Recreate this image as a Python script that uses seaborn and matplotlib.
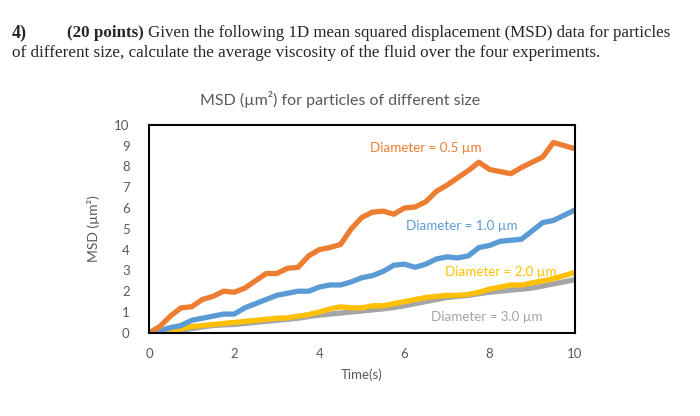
import numpy as np
import pandas as pd
import matplotlib
matplotlib.use("Agg")
import matplotlib.pyplot as plt
import seaborn as sns

sns.set_style("white")
plt.rcParams["font.family"] = ["Lato", "DejaVu Sans"]

# time axis (s) and MSD (um^2)
time_s = np.linspace(0, 10, 41)
msd_05 = [0, 0.3, 0.8, 1.2, 1.25, 1.6, 1.75, 2.0, 1.95, 2.15, 2.5, 2.85, 2.85, 3.1,
          3.15, 3.7, 4.0, 4.1, 4.25, 5.0, 5.55, 5.8, 5.85, 5.7, 6.0, 6.05, 6.3, 6.8,
          7.1, 7.45, 7.8, 8.2, 7.85, 7.75, 7.65, 7.95, 8.2, 8.45, 9.15, 9.0, 8.85]
msd_10 = [0, 0.1, 0.25, 0.35, 0.6, 0.7, 0.8, 0.9, 0.9, 1.2, 1.4, 1.6, 1.8, 1.9,
          2.0, 2.0, 2.2, 2.3, 2.3, 2.45, 2.65, 2.75, 2.95, 3.25, 3.3, 3.15, 3.3, 3.55,
          3.65, 3.6, 3.7, 4.1, 4.2, 4.4, 4.45, 4.5, 4.9, 5.3, 5.4, 5.65, 5.9]
msd_20 = [0, 0.03, 0.1, 0.2, 0.3, 0.35, 0.4, 0.45, 0.5, 0.55, 0.6, 0.65, 0.7, 0.72,
          0.8, 0.88, 1.0, 1.15, 1.25, 1.2, 1.2, 1.3, 1.3, 1.4, 1.5, 1.6, 1.7, 1.75,
          1.8, 1.8, 1.85, 1.95, 2.1, 2.2, 2.3, 2.3, 2.4, 2.5, 2.6, 2.75, 2.9]
msd_30 = [0, 0.02, 0.05, 0.12, 0.2, 0.28, 0.35, 0.38, 0.4, 0.45, 0.5, 0.55, 0.6, 0.65,
          0.7, 0.78, 0.85, 0.9, 0.95, 1.0, 1.05, 1.1, 1.15, 1.22, 1.3, 1.4, 1.5, 1.6,
          1.7, 1.75, 1.8, 1.88, 1.95, 2.0, 2.05, 2.1, 2.15, 2.25, 2.35, 2.45, 2.55]

labels = ["Diameter = 0.5 µm", "Diameter = 1.0 µm", "Diameter = 2.0 µm", "Diameter = 3.0 µm"]
colors = ["#ED7D31", "#5B9BD5", "#FFC000", "#A5A5A5"]
label_pos = [(6.5, 8.87), (7.35, 5.13), (8.26, 2.93), (7.94, 0.78)]

df = pd.DataFrame({
    "time": np.tile(time_s, 4),
    "msd": msd_05 + msd_10 + msd_20 + msd_30,
    "series": np.repeat(labels, len(time_s)),
})

fig = plt.figure(figsize=(7, 4.16), dpi=100)
ax = fig.add_axes([0.213, 0.2, 0.608, 0.5])

# gray first so yellow sits on top, orange/blue last
for i in [3, 2, 1, 0]:
    sns.lineplot(data=df[df["series"] == labels[i]], x="time", y="msd",
                 color=colors[i], linewidth=3.8, ax=ax, legend=False,
                 solid_capstyle="round", solid_joinstyle="round")

for lab, col, (x, y) in zip(labels, colors, label_pos):
    ax.text(x, y, lab, color=col, fontsize=9.6, ha="center", va="center")

ax.set_xlim(0, 10)
ax.set_ylim(0, 10)
ax.set_xticks([0, 2, 4, 6, 8, 10])
ax.set_yticks(range(0, 11))
for s in ax.spines.values():
    s.set_color("black")
    s.set_linewidth(1.5)
ax.tick_params(direction="in", length=4, width=1.2, color="black",
               labelcolor="#595959", labelsize=9.5)
ax.tick_params(axis="x", pad=11)
ax.tick_params(axis="y", pad=14)
ax.set_xlabel("Time(s)", color="#595959", fontsize=9.5, labelpad=6)
ax.set_ylabel("MSD (µm²)", color="#595959", fontsize=10, labelpad=10)

fig.text(0.486, 0.76, "MSD (µm²) for particles of different size",
         color="#595959", fontsize=11.5, ha="center", va="center")

# problem statement above the chart, each piece squeezed to its width in the reference
renderer = fig.canvas.get_renderer()


def put(x0, x1, y, s, bold=False):
    t = fig.text(x0 / 700, 1 - y / 416, s, fontsize=12.5, family="Liberation Serif",
                 fontweight="bold" if bold else "normal", va="center")
    w = t.get_window_extent(renderer).width
    t.set_fontsize(12.5 * (x1 - x0) / w)


put(12, 27, 33, "4)", bold=True)
put(67, 144, 33, "(20 points)", bold=True)
put(148, 672, 33, "Given the following 1D mean squared displacement (MSD) data for particles")
put(12, 600, 53, "of different size, calculate the average viscosity of the fluid over the four experiments.")

fig.savefig("out.png", dpi=100)
